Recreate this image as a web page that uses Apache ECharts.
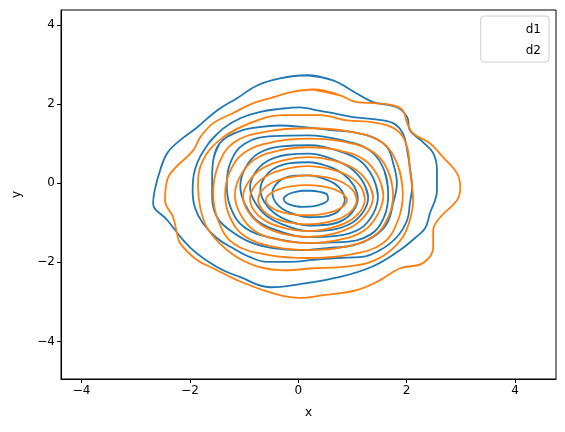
<!DOCTYPE html>
<html><head><meta charset="utf-8">
<script src="https://cdn.jsdelivr.net/npm/echarts@6/dist/echarts.min.js"></script>
<style>html,body{margin:0;padding:0;background:#fff}#c{width:565px;height:432px}</style>
</head><body><div id="c"></div>
<script>
const xTicks = [-4, -2, 0, 2, 4];
const yTicks = [-4, -2, 0, 2, 4];
const seriesNames = ['d1', 'd2'];

// d1 contour levels (outer -> inner), [x, y]
const d1_c1 = [[0.16,2.73],[0.64,2.60],[1.08,2.27],[1.38,2.05],[1.82,1.92],[2.01,1.67],[2.06,1.34],[2.30,1.04],[2.49,0.76],[2.56,0.33],[2.56,-0.18],[2.43,-0.76],[2.34,-1.14],[2.15,-1.39],[1.88,-1.69],[1.38,-2.10],[0.77,-2.37],[0.03,-2.55],[-0.52,-2.63],[-1.08,-2.37],[-1.50,-2.12],[-2.00,-1.62],[-2.42,-0.93],[-2.68,-0.51],[-2.65,-0.18],[-2.55,0.33],[-2.42,0.76],[-2.18,1.09],[-1.87,1.41],[-1.50,1.84],[-1.13,2.15],[-0.76,2.47],[-0.34,2.65]];
const d1_c2 = [[-1.66,1.00],[-1.37,1.40],[-1.06,1.65],[-0.72,1.80],[-0.34,1.88],[0.03,1.92],[0.35,1.84],[0.64,1.77],[1.01,1.67],[1.38,1.62],[1.75,1.52],[1.93,1.26],[2.01,0.83],[2.06,0.40],[2.10,-0.10],[2.06,-0.51],[2.01,-0.93],[1.82,-1.36],[1.51,-1.69],[1.14,-1.87],[0.71,-1.89],[0.27,-1.94],[-0.15,-1.99],[-0.58,-1.99],[-0.89,-1.87],[-1.21,-1.64],[-1.50,-1.39],[-1.76,-1.01],[-1.91,-0.61],[-1.95,-0.18],[-1.91,0.33]];
const d1_c3 = [[-1.57,0.58],[-1.45,1.01],[-1.13,1.29],[-0.76,1.41],[-0.34,1.46],[0.16,1.41],[0.64,1.34],[1.01,1.29],[1.38,1.16],[1.64,0.91],[1.75,0.51],[1.82,0.00],[1.75,-0.51],[1.64,-1.01],[1.38,-1.36],[1.01,-1.57],[0.53,-1.64],[0.03,-1.69],[-0.47,-1.64],[-0.89,-1.49],[-1.26,-1.19],[-1.50,-0.86],[-1.59,-0.35],[-1.59,0.15]];
const d1_c4 = [[1.66,-0.27],[1.59,0.31],[1.33,0.82],[0.80,1.09],[0.17,1.21],[-0.46,1.19],[-0.99,1.00],[-1.25,0.53],[-1.32,-0.03],[-1.25,-0.61],[-0.99,-1.12],[-0.46,-1.39],[0.17,-1.51],[0.80,-1.49],[1.33,-1.30],[1.59,-0.83]];
const d1_c5 = [[1.47,-0.33],[1.38,0.14],[1.14,0.57],[0.71,0.83],[0.20,0.96],[-0.31,0.93],[-0.74,0.75],[-0.98,0.38],[-1.07,-0.07],[-0.98,-0.54],[-0.74,-0.97],[-0.31,-1.23],[0.20,-1.36],[0.71,-1.33],[1.14,-1.15],[1.38,-0.78]];
const d1_c6 = [[1.29,-0.36],[1.20,0.02],[0.97,0.38],[0.61,0.62],[0.20,0.75],[-0.21,0.72],[-0.57,0.56],[-0.80,0.26],[-0.89,-0.10],[-0.80,-0.48],[-0.57,-0.84],[-0.21,-1.08],[0.20,-1.21],[0.61,-1.18],[0.97,-1.02],[1.20,-0.72]];
const d1_c7 = [[1.10,-0.38],[1.03,-0.07],[0.84,0.22],[0.54,0.43],[0.20,0.53],[-0.14,0.51],[-0.44,0.38],[-0.63,0.13],[-0.70,-0.16],[-0.63,-0.47],[-0.44,-0.76],[-0.14,-0.97],[0.20,-1.07],[0.54,-1.05],[0.84,-0.92],[1.03,-0.67]];
const d1_c8 = [[0.86,-0.41],[0.81,-0.20],[0.67,-0.01],[0.44,0.13],[0.19,0.20],[-0.06,0.19],[-0.29,0.11],[-0.43,-0.06],[-0.48,-0.25],[-0.43,-0.46],[-0.29,-0.65],[-0.06,-0.79],[0.19,-0.86],[0.44,-0.85],[0.67,-0.77],[0.81,-0.60]];
const d1_c9 = [[0.55,-0.36],[0.52,-0.27],[0.40,-0.22],[0.24,-0.19],[0.10,-0.19],[-0.05,-0.22],[-0.20,-0.29],[-0.27,-0.39],[-0.22,-0.50],[-0.08,-0.57],[0.10,-0.60],[0.30,-0.58],[0.46,-0.51],[0.54,-0.44]];

// d2 contour levels (outer -> inner), [x, y]
const d2_c1 = [[0.27,2.37],[0.77,2.22],[1.08,2.05],[1.45,2.02],[1.75,1.97],[1.93,1.84],[2.01,1.52],[2.12,1.26],[2.43,1.01],[2.67,0.66],[2.93,0.25],[2.99,-0.10],[2.93,-0.43],[2.62,-0.86],[2.49,-1.19],[2.49,-1.62],[2.30,-2.02],[1.88,-2.15],[1.51,-2.45],[1.08,-2.70],[0.46,-2.83],[0.03,-2.90],[-0.47,-2.78],[-1.13,-2.45],[-1.57,-2.15],[-1.87,-1.94],[-2.18,-1.52],[-2.24,-1.26],[-2.31,-0.86],[-2.46,-0.43],[-2.42,0.08],[-2.31,0.33],[-1.94,0.83],[-1.81,1.16],[-1.57,1.52],[-1.21,1.77],[-0.84,2.02],[-0.47,2.17],[-0.15,2.30]];
const d2_c2 = [[-1.39,1.16],[-0.89,1.52],[-0.28,1.72],[0.40,1.72],[0.90,1.59],[1.38,1.54],[1.82,1.34],[2.01,0.91],[2.06,0.33],[2.12,-0.43],[2.06,-0.93],[1.93,-1.36],[1.64,-1.77],[1.27,-2.02],[0.77,-2.12],[0.27,-2.15],[-0.21,-2.20],[-0.71,-2.12],[-1.13,-1.87],[-1.45,-1.52],[-1.69,-1.11],[-1.81,-0.61],[-1.85,-0.10],[-1.76,0.58]];
const d2_c3 = [[1.93,-0.25],[1.84,0.44],[1.55,1.03],[0.92,1.31],[0.18,1.39],[-0.56,1.31],[-1.19,1.03],[-1.48,0.44],[-1.57,-0.25],[-1.48,-0.94],[-1.19,-1.53],[-0.56,-1.81],[0.18,-1.89],[0.92,-1.81],[1.55,-1.53],[1.84,-0.94]];
const d2_c4 = [[1.75,-0.28],[1.66,0.30],[1.38,0.79],[0.84,1.05],[0.20,1.13],[-0.44,1.05],[-0.98,0.79],[-1.26,0.30],[-1.35,-0.28],[-1.26,-0.86],[-0.98,-1.35],[-0.44,-1.61],[0.20,-1.69],[0.84,-1.61],[1.38,-1.35],[1.66,-0.86]];
const d2_c5 = [[1.57,-0.30],[1.47,0.18],[1.21,0.60],[0.75,0.83],[0.20,0.91],[-0.35,0.83],[-0.81,0.60],[-1.07,0.18],[-1.17,-0.30],[-1.07,-0.78],[-0.81,-1.20],[-0.35,-1.43],[0.20,-1.51],[0.75,-1.43],[1.21,-1.20],[1.47,-0.78]];
const d2_c6 = [[1.38,-0.35],[1.28,0.03],[1.03,0.37],[0.64,0.58],[0.18,0.66],[-0.28,0.58],[-0.67,0.37],[-0.92,0.03],[-1.02,-0.35],[-0.92,-0.73],[-0.67,-1.07],[-0.28,-1.28],[0.18,-1.36],[0.64,-1.28],[1.03,-1.07],[1.28,-0.73]];
const d2_c7 = [[1.23,-0.39],[1.15,-0.08],[0.92,0.19],[0.57,0.36],[0.17,0.43],[-0.23,0.36],[-0.58,0.19],[-0.81,-0.08],[-0.89,-0.39],[-0.81,-0.70],[-0.58,-0.97],[-0.23,-1.14],[0.17,-1.21],[0.57,-1.14],[0.92,-0.97],[1.15,-0.70]];
const d2_c8 = [[1.08,-0.42],[1.01,-0.18],[0.82,0.02],[0.52,0.15],[0.17,0.20],[-0.18,0.15],[-0.48,0.02],[-0.67,-0.18],[-0.74,-0.42],[-0.67,-0.66],[-0.48,-0.86],[-0.18,-0.99],[0.17,-1.04],[0.52,-0.99],[0.82,-0.86],[1.01,-0.66]];
const d2_c9 = [[0.90,-0.43],[0.84,-0.29],[0.68,-0.16],[0.44,-0.08],[0.15,-0.05],[-0.14,-0.08],[-0.38,-0.16],[-0.54,-0.29],[-0.60,-0.43],[-0.54,-0.57],[-0.38,-0.70],[-0.14,-0.78],[0.15,-0.81],[0.44,-0.78],[0.68,-0.70],[0.84,-0.57]];

const d1Levels = [d1_c1, d1_c2, d1_c3, d1_c4, d1_c5, d1_c6, d1_c7, d1_c8, d1_c9];
const d2Levels = [d2_c1, d2_c2, d2_c3, d2_c4, d2_c5, d2_c6, d2_c7, d2_c8, d2_c9];
const colors = ['#1f77b4', '#ff7f0e'];
const FONT = 'DejaVu Sans';

const series = [];
[d1Levels, d2Levels].forEach((levels, k) => {
  levels.forEach(pts => {
    series.push({
      name: seriesNames[k], type: 'line', data: pts.concat([pts[0], pts[1]]),
      smooth: 0.4, showSymbol: false, symbol: 'none', silent: true,
      lineStyle: { color: colors[k], width: 1.8 }, itemStyle: { color: colors[k] }
    });
  });
});

const fmt = v => String(v).replace('-', '\u2212');
const chart = echarts.init(document.getElementById('c'), null, { renderer: 'canvas' });
chart.setOption({
  animation: false,
  textStyle: { fontFamily: FONT },
  grid: { left: 61, right: 9, top: 10, bottom: 53, show: true, borderColor: '#000', borderWidth: 1, backgroundColor: 'transparent' },
  legend: {
    data: seriesNames, orient: 'vertical', right: 16, top: 16,
    icon: 'rect', itemWidth: 30, itemHeight: 8, itemGap: 9,
    itemStyle: { opacity: 0 }, lineStyle: { opacity: 0 },
    padding: [8, 8, 5, 10], borderColor: '#cccccc', borderWidth: 1, borderRadius: 3,
    backgroundColor: 'rgba(255,255,255,0.8)',
    textStyle: { fontFamily: FONT, fontSize: 12, color: '#000' }
  },
  xAxis: {
    type: 'value', min: -4.38, max: 4.757,
    name: 'x', nameLocation: 'middle', nameGap: 28,
    nameTextStyle: { fontFamily: FONT, fontSize: 12, color: '#000' },
    axisLine: { show: true, onZero: false, lineStyle: { color: '#000', width: 1 } },
    axisTick: { show: true, length: 4, customValues: xTicks, lineStyle: { color: '#000' } },
    axisLabel: { customValues: xTicks, formatter: fmt, color: '#000', fontSize: 12, fontFamily: FONT, margin: 6 },
    splitLine: { show: false }
  },
  yAxis: {
    type: 'value', min: -4.95, max: 4.38,
    name: 'y', nameLocation: 'middle', nameGap: 38,
    nameTextStyle: { fontFamily: FONT, fontSize: 12, color: '#000' },
    axisLine: { show: true, onZero: false, lineStyle: { color: '#000', width: 1 } },
    axisTick: { show: true, length: 4, customValues: yTicks, lineStyle: { color: '#000' } },
    axisLabel: { customValues: yTicks, formatter: fmt, color: '#000', fontSize: 12, fontFamily: FONT, margin: 6 },
    splitLine: { show: false }
  },
  series: series
});
</script></body></html>
